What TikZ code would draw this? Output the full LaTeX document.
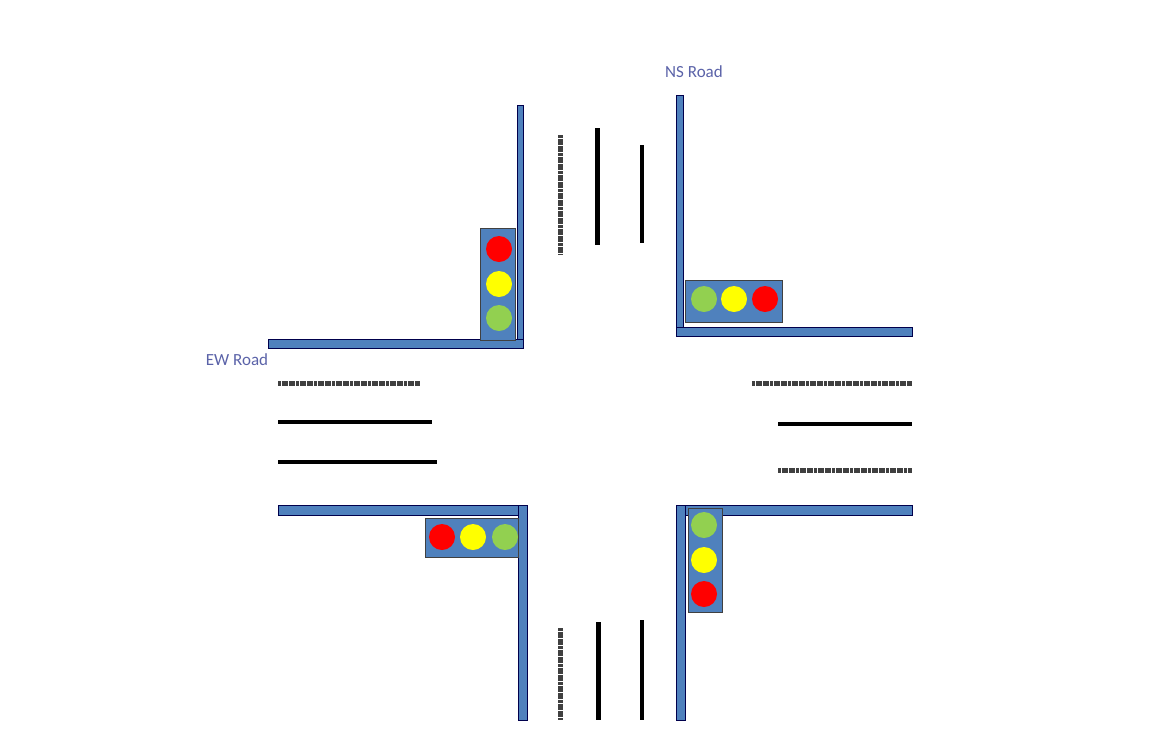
\documentclass[tikz,border=0pt]{standalone}
\usepackage{fontspec}
\setmainfont{Carlito}
\begin{document}
\begin{tikzpicture}[x=1pt,y=-1pt,
 wall/.style={draw=black!70!blue,fill=wallblue,line width=0.8pt},
 lbox/.style={draw=black!75,fill=wallblue,line width=0.8pt},
 lamp/.style={circle,minimum size=26pt,inner sep=0pt},
 solidlane/.style={line width=4pt,black},
 dotlane/.style={line width=5pt,black!75,dash pattern=on 3pt off 0.6pt},
 lbl/.style={text=labelblue,font=\fontsize{17}{20}\selectfont}]
\definecolor{wallblue}{HTML}{4F81BD}
\definecolor{labelblue}{HTML}{5A62A8}
\definecolor{lred}{HTML}{FF0000}
\definecolor{lyel}{HTML}{FFFF00}
\definecolor{lgrn}{HTML}{92D050}
\useasboundingbox (0,0) rectangle (1172,745);
% NW
\fill[wall] (517,105) rectangle (523,348);
\fill[wall] (268,339) rectangle (523,348);
\filldraw[lbox] (480,228) rectangle (515,340);
\node[lamp,fill=lred] (nw1) at (499,249) {};
\node[lamp,fill=lyel] (nw2) at (499,284) {};
\node[lamp,fill=lgrn] (nw3) at (499,318) {};
% NE
\fill[wall] (676,95) rectangle (683,336);
\fill[wall] (676,327) rectangle (912,336);
\filldraw[lbox] (685,280) rectangle (782,322);
\node[lamp,fill=lgrn] (ne1) at (704,299) {};
\node[lamp,fill=lyel] (ne2) at (734,299) {};
\node[lamp,fill=lred] (ne3) at (765,299) {};
% SW
\fill[wall] (278,505) rectangle (527,515);
\fill[wall] (518,505) rectangle (527,720);
\filldraw[lbox] (425,518) rectangle (518,557);
\node[lamp,fill=lred] (sw1) at (442,537) {};
\node[lamp,fill=lyel] (sw2) at (473,537) {};
\node[lamp,fill=lgrn] (sw3) at (505,537) {};
% SE
\fill[wall] (676,505) rectangle (912,515);
\fill[wall] (676,505) rectangle (685,720);
\filldraw[lbox] (688,508) rectangle (722,612);
\node[lamp,fill=lgrn] (se1) at (704,525) {};
\node[lamp,fill=lyel] (se2) at (704,560) {};
\node[lamp,fill=lred] (se3) at (704,594) {};
% lanes N
\draw[dotlane] (560,135) -- (560,255);
\draw[solidlane,line width=5pt] (597,128) -- (597,245);
\draw[solidlane] (642,145) -- (642,243);
% lanes S
\draw[dotlane] (560,628) -- (560,720);
\draw[solidlane,line width=5pt] (598,622) -- (598,720);
\draw[solidlane] (642,620) -- (642,720);
% lanes W
\draw[dotlane] (278,383) -- (420,383);
\draw[solidlane] (278,422) -- (432,422);
\draw[solidlane] (278,462) -- (437,462);
% lanes E
\draw[dotlane] (752,383) -- (912,383);
\draw[solidlane] (778,424) -- (912,424);
\draw[dotlane] (778,470) -- (912,470);
\node[lbl] (ns) at (694,72) {NS Road};
\node[lbl] (ew) at (237,360) {EW Road};
\end{tikzpicture}
\end{document}
